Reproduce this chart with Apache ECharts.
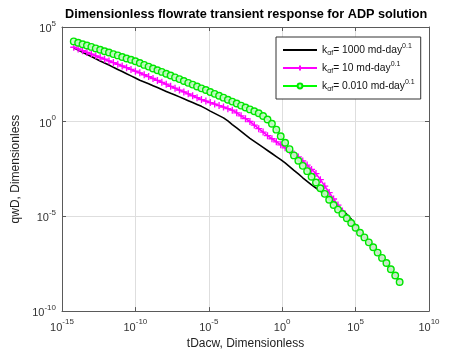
<!DOCTYPE html>
<html><head><meta charset="utf-8">
<script src="https://cdn.jsdelivr.net/npm/echarts@6/dist/echarts.min.js"></script>
<style>html,body{margin:0;padding:0;background:#fff}#c{width:474px;height:355px}</style>
</head><body><div id="c"></div>
<script>
// log10 of tDacw at each sample (shared by all three curves)
const tDacwExp = [-14.2,-13.9,-13.6,-13.3,-13.0,-12.7,-12.4,-12.1,-11.8,-11.5,-11.2,-10.9,-10.6,-10.3,-10.0,
  -9.7,-9.4,-9.1,-8.8,-8.5,-8.2,-7.9,-7.6,-7.3,-7.0,-6.7,-6.4,-6.1,-5.8,-5.5,-5.2,-4.9,-4.6,-4.3,-4.0,
  -3.7,-3.4,-3.1,-2.8,-2.5,-2.2,-1.9,-1.6,-1.3,-1.0,-0.7,-0.4,-0.1,0.2,0.5,0.8,1.1,1.4,1.7,2.0,2.3,2.6,
  2.9,3.2,3.5,3.8,4.1,4.4,4.7,5.0,5.3,5.6,5.9,6.2,6.5,6.8,7.1,7.4,7.7,8.0];
// log10 of qwD, k = 1000 md-day^0.1
const qwD_k1000 = [3.89,3.78,3.66,3.55,3.44,3.32,3.21,3.10,2.99,2.87,2.76,2.65,2.53,2.42,2.31,2.19,
  2.10,2.00,1.90,1.80,1.70,1.60,1.50,1.41,1.31,1.21,1.11,1.01,0.91,
  0.81,0.69,0.56,0.44,0.32,0.20,
  0.04,-0.15,-0.33,-0.51,-0.70,-0.88,
  -1.04,-1.20,-1.36,-1.52,-1.68,-1.84,-2.00,
  -2.18,-2.37,-2.57,-2.76,-2.96,-3.15,
  -3.34,-3.50,-3.66,-3.85,-4.04,-4.23,
  -4.43,-4.66,-4.89,-5.14,-5.46,
  -5.86,-6.11,-6.37,-6.63,-6.91,-7.19,-7.46,-7.79,-8.12,-8.46];
// log10 of qwD, k = 10 md-day^0.1
const qwD_k10 = [3.93,3.84,3.75,3.66,3.57,3.48,3.39,3.30,3.21,3.12,3.03,2.94,2.85,2.76,2.67,2.58,
  2.48,2.38,2.28,2.18,2.08,1.98,1.87,1.77,1.67,1.57,1.47,1.37,1.27,
  1.17,1.09,1.01,0.93,0.85,0.77,0.69,0.61,
  0.47,0.31,0.16,0.01,
  -0.18,-0.37,-0.55,
  -0.74,-0.90,-1.06,-1.22,
  -1.38,-1.54,-1.70,-1.86,
  -2.07,-2.29,-2.52,-2.74,
  -3.06,-3.40,-3.74,
  -4.08,-4.40,-4.72,-5.08,
  -5.35,-5.60,-5.86,-6.11,-6.37,-6.63,-6.91,-7.19,-7.46,-7.79,-8.12,-8.46];
// log10 of qwD, k = 0.010 md-day^0.1
const qwD_k0010 = [4.24,4.17,4.09,4.02,3.95,3.87,3.80,3.72,3.65,3.57,3.50,3.42,3.34,3.27,3.19,
  3.10,3.00,2.91,2.81,2.72,2.63,2.53,2.44,
  2.34,2.25,2.15,2.05,1.96,1.86,1.76,1.67,
  1.57,1.47,1.37,1.27,1.16,1.06,
  0.96,0.85,0.75,0.65,0.55,0.45,
  0.30,0.12,-0.11,-0.42,-0.77,
  -1.11,-1.45,-1.78,-2.06,-2.33,
  -2.61,-2.91,-3.21,-3.51,-3.81,-4.12,
  -4.40,-4.64,-4.87,-5.10,-5.35,-5.60,
  -5.86,-6.11,-6.37,-6.63,-6.91,-7.19,-7.46,-7.79,-8.12,-8.46];
const kLabels = ['1000', '10', '0.010'];
const seriesNames = ['k1000', 'k10', 'k0010'];
const titleText = 'Dimensionless flowrate transient response for ADP solution';
const xAxisName = 'tDacw, Dimensionless';
const yAxisName = 'qwD, Dimensionless';

const FONT = '"Liberation Sans", Arial, Helvetica, sans-serif';
const pairs = arr => tDacwExp.map((x, i) => [x, arr[i]]);
const powLabel = v => '{b|10}{s|' + v + '}';
const powRich = {
  b: { fontSize: 11, lineHeight: 15, verticalAlign: 'bottom', color: '#333', fontFamily: FONT },
  s: { fontSize: 8, lineHeight: 8, verticalAlign: 'top', color: '#333', fontFamily: FONT }
};
const frame = '#5a5a5a';

const chart = echarts.init(document.getElementById('c'), null, { renderer: 'canvas' });
chart.setOption({
  animation: false,
  backgroundColor: '#fff',
  title: {
    text: titleText, left: 60, top: 3, padding: [5, 5, 5, 5],
    textStyle: { fontSize: 12.7, fontWeight: 'bold', color: '#000', fontFamily: FONT }
  },
  grid: { left: 62, right: 45, top: 27, bottom: 40, containLabel: false },
  legend: {
    orient: 'vertical', left: 276, top: 37,
    padding: [6, 6, 6, 6], itemGap: 4, itemWidth: 34, itemHeight: 6, itemTextGap: 3,
    backgroundColor: '#fff', borderColor: '#333', borderWidth: 1,
    data: [
      { name: seriesNames[0], itemStyle: { opacity: 0 } },
      { name: seriesNames[1] },
      { name: seriesNames[2] }
    ],
    formatter: name => '{n|k}{sub|αf}{n|= ' + kLabels[seriesNames.indexOf(name)] + ' md-day}{sup|0.1}',
    textStyle: {
      fontFamily: FONT,
      rich: {
        n: { fontSize: 10.3, lineHeight: 14, verticalAlign: 'middle', color: '#111', fontFamily: FONT },
        sub: { fontSize: 7, lineHeight: 7, verticalAlign: 'bottom', color: '#111', fontFamily: FONT },
        sup: { fontSize: 7, lineHeight: 7, verticalAlign: 'top', color: '#111', fontFamily: FONT }
      }
    }
  },
  xAxis: [{
    type: 'value', min: -15, max: 10, interval: 5,
    name: xAxisName, nameLocation: 'middle', nameGap: 24,
    nameTextStyle: { fontSize: 12, color: '#222', fontFamily: FONT },
    axisLine: { show: true, onZero: false, lineStyle: { color: frame, width: 1 } },
    axisTick: { show: true, inside: true, length: 4, lineStyle: { color: frame } },
    axisLabel: { margin: 7, formatter: powLabel, rich: powRich, showMinLabel: true, showMaxLabel: true },
    splitLine: { show: true, lineStyle: { color: '#dedede', width: 1 } }
  }, {
    type: 'value', position: 'top', min: -15, max: 10, interval: 5,
    axisLine: { show: true, onZero: false, lineStyle: { color: frame, width: 1 } },
    axisTick: { show: true, inside: true, length: 4, lineStyle: { color: frame } },
    axisLabel: { show: false }, splitLine: { show: false }
  }],
  yAxis: [{
    type: 'value', min: -10, max: 5, interval: 5,
    name: yAxisName, nameLocation: 'middle', nameGap: 39,
    nameTextStyle: { fontSize: 12, color: '#222', fontFamily: FONT },
    axisLine: { show: true, onZero: false, lineStyle: { color: frame, width: 1 } },
    axisTick: { show: true, inside: true, length: 4, lineStyle: { color: frame } },
    axisLabel: { margin: 6, formatter: powLabel, rich: powRich, showMinLabel: true, showMaxLabel: true },
    splitLine: { show: true, lineStyle: { color: '#dedede', width: 1 } }
  }, {
    type: 'value', position: 'right', min: -10, max: 5, interval: 5,
    axisLine: { show: true, onZero: false, lineStyle: { color: frame, width: 1 } },
    axisTick: { show: true, inside: true, length: 4, lineStyle: { color: frame } },
    axisLabel: { show: false }, splitLine: { show: false }
  }],
  series: [{
    name: seriesNames[0], type: 'line', data: pairs(qwD_k1000),
    symbol: 'none', lineStyle: { color: '#000', width: 1.6 }, itemStyle: { color: '#000' }
  }, {
    name: seriesNames[1], type: 'line', data: pairs(qwD_k10),
    symbol: 'path://M0,5L10,5M5,0L5,10', symbolSize: 7, symbolKeepAspect: true,
    lineStyle: { color: '#ff00ff', width: 1.6 },
    itemStyle: { color: '#ff00ff', borderColor: '#ff00ff', borderWidth: 1.3 }
  }, {
    name: seriesNames[2], type: 'line', data: pairs(qwD_k0010),
    symbol: 'circle', symbolSize: 6.5,
    lineStyle: { color: '#00ff00', width: 1.6 },
    itemStyle: { color: 'rgba(200,250,200,0.9)', borderColor: '#00e600', borderWidth: 1.4 }
  }]
});
</script>
</body></html>
